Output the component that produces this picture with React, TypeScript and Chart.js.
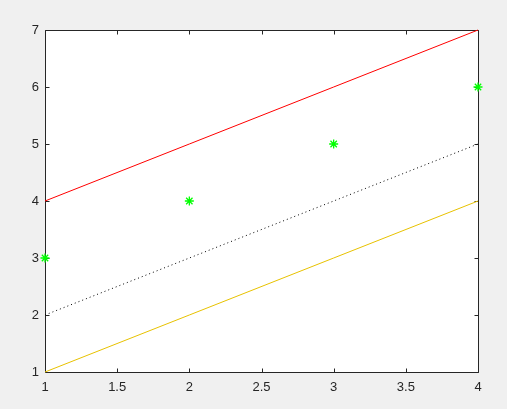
import React, { useEffect, useRef } from "react";
import { Chart, registerables } from "chart.js";

Chart.register(...registerables);

const xValues = [1, 2, 3, 4];
const redLine = [4, 5, 6, 7];
const blackDotted = [2, 3, 4, 5];
const yellowLine = [1, 2, 3, 4];
const greenStars = [3, 4, 5, 6];
const xTicks = [1, 1.5, 2, 2.5, 3, 3.5, 4];
const yTicks = [1, 2, 3, 4, 5, 6, 7];

const pts = (ys: number[]) => xValues.map((x, i) => ({ x, y: ys[i] }));

const boxPlugin = {
  id: "matlabBox",
  beforeDraw(chart: any) {
    const { ctx, chartArea: a } = chart;
    ctx.save();
    ctx.fillStyle = "#f0f0f0";
    ctx.fillRect(0, 0, chart.width, chart.height);
    ctx.fillStyle = "#ffffff";
    ctx.fillRect(a.left, a.top, a.right - a.left, a.bottom - a.top);
    ctx.restore();
  },
  beforeDatasetsDraw(chart: any) {
    const { ctx, chartArea: a, scales } = chart;
    const xs = scales.x;
    const ys = scales.y;
    const L = Math.round(a.left) + 0.5;
    const R = Math.round(a.right) + 0.5;
    const T = Math.round(a.top) + 0.5;
    const B = Math.round(a.bottom) + 0.5;
    const tl = 4;
    ctx.save();
    ctx.strokeStyle = "#262626";
    ctx.lineWidth = 1;
    ctx.beginPath();
    ctx.rect(L, T, R - L, B - T);
    for (const v of xTicks) {
      const px = Math.round(xs.getPixelForValue(v)) + 0.5;
      ctx.moveTo(px, B);
      ctx.lineTo(px, B - tl);
      ctx.moveTo(px, T);
      ctx.lineTo(px, T + tl);
    }
    for (const v of yTicks) {
      const py = Math.round(ys.getPixelForValue(v)) + 0.5;
      ctx.moveTo(L, py);
      ctx.lineTo(L + tl, py);
      ctx.moveTo(R, py);
      ctx.lineTo(R - tl, py);
    }
    ctx.stroke();
    ctx.restore();
  },
};

export default function App() {
  const ref = useRef<HTMLCanvasElement>(null);
  useEffect(() => {
    document.body.style.margin = "0";
    const font = { family: "'Liberation Sans', Arial, sans-serif", size: 13 };
    const chart = new Chart(ref.current!, {
      type: "scatter",
      data: {
        datasets: [
          {
            data: pts(redLine),
            showLine: true,
            borderColor: "#ff0000",
            borderWidth: 1,
            pointRadius: 0,
          },
          {
            data: pts(blackDotted),
            showLine: true,
            borderColor: "#000000",
            borderWidth: 1,
            borderDash: [1, 3],
            pointRadius: 0,
          },
          {
            data: pts(yellowLine),
            showLine: true,
            borderColor: "#e8c200",
            borderWidth: 1,
            pointRadius: 0,
          },
          {
            data: pts(greenStars),
            showLine: false,
            pointStyle: "star",
            pointRadius: 4.5,
            borderColor: "#00ff00",
            backgroundColor: "#00ff00",
            pointBorderWidth: 1.3,
          },
        ],
      },
      options: {
        animation: false,
        responsive: false,
        clip: false as any,
        layout: { padding: { top: 30, right: 29, left: 0, bottom: 0 } },
        plugins: { legend: { display: false }, tooltip: { enabled: false } },
        scales: {
          x: {
            type: "linear",
            min: 1,
            max: 4,
            afterFit: (s: any) => {
              s.height = 37;
            },
            afterBuildTicks: (s: any) => {
              s.ticks = xTicks.map((v) => ({ value: v }));
            },
            grid: { display: false, drawTicks: false },
            border: { display: false },
            ticks: {
              padding: 8,
              color: "#262626",
              font,
              maxRotation: 0,
              callback: (v: any) => String(v),
            },
          },
          y: {
            type: "linear",
            min: 1,
            max: 7,
            afterFit: (s: any) => {
              s.width = 45;
            },
            afterBuildTicks: (s: any) => {
              s.ticks = yTicks.map((v) => ({ value: v }));
            },
            grid: { display: false, drawTicks: false },
            border: { display: false },
            ticks: {
              padding: 6,
              color: "#262626",
              font,
              callback: (v: any) => String(v),
            },
          },
        },
      },
      plugins: [boxPlugin],
    });
    return () => chart.destroy();
  }, []);
  return <canvas ref={ref} width={507} height={409} style={{ display: "block" }} />;
}
